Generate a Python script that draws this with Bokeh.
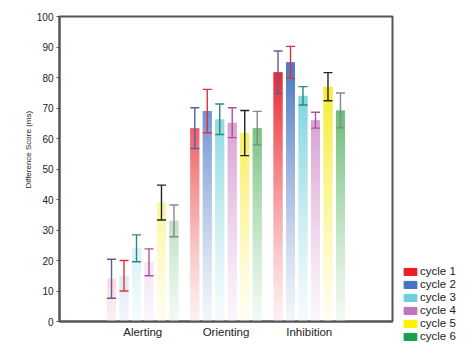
import numpy as np
from bokeh.plotting import figure
from bokeh.models import (ColumnDataSource, Legend, LegendItem, FixedTicker, Title)
from bokeh.embed import file_html
from bokeh.resources import INLINE

groups = ["Alerting", "Orienting", "Inhibition"]
cycles = ["cycle 1", "cycle 2", "cycle 3", "cycle 4", "cycle 5", "cycle 6"]

cycle1_mean = [14.0, 63.4, 81.7]
cycle2_mean = [15.0, 69.0, 85.0]
cycle3_mean = [24.0, 66.3, 74.0]
cycle4_mean = [19.4, 65.2, 66.0]
cycle5_mean = [39.0, 61.8, 77.0]
cycle6_mean = [33.0, 63.4, 69.2]

cycle1_err = [6.4, 6.7, 7.0]
cycle2_err = [5.0, 7.1, 5.2]
cycle3_err = [4.4, 5.0, 3.0]
cycle4_err = [4.4, 4.9, 2.6]
cycle5_err = [5.7, 7.4, 4.6]
cycle6_err = [5.2, 5.5, 5.7]

y_ticks = [0, 10, 20, 30, 40, 50, 60, 70, 80, 90, 100]

means = [cycle1_mean, cycle2_mean, cycle3_mean, cycle4_mean, cycle5_mean, cycle6_mean]
errs = [cycle1_err, cycle2_err, cycle3_err, cycle4_err, cycle5_err, cycle6_err]

bar_colors = ["#e8222b", "#4a78c4", "#6ccfdb", "#cc82c6", "#f6ea1e", "#45ad52"]
legend_colors = ["#ee1c25", "#4472c4", "#6dcfdc", "#c074bc", "#fff200", "#16a04a"]
err_colors = ["#5c5e9c", "#e2303a", "#2a8a7c", "#b0509c", "#222222", "#888888"]

FONT = "Liberation Sans"


def tint(hex_color, a):
    r, g, b = (int(hex_color[i:i + 2], 16) for i in (1, 3, 5))
    mix = lambda c: int(round(255 * (1 - a) + c * a))
    return "#%02x%02x%02x" % (mix(r), mix(g), mix(b))


p = figure(frame_width=333, frame_height=305, output_backend="svg", toolbar_location=None,
           x_range=(0, 4), y_range=(0, 100),
           min_border_left=59, min_border_right=10, min_border_top=16, min_border_bottom=29)
p.xgrid.visible = False
p.ygrid.visible = False
p.outline_line_color = "#555555"
p.outline_line_width = 2
p.background_fill_color = "white"
p.border_fill_color = "white"

group_x = np.arange(1, len(groups) + 1)
step = 0.15
width = 0.108
cap = 0.108

legend_items = []
for k, name in enumerate(cycles):
    xs = group_x + (k - 2.5) * step
    L, R, B, T, C = [], [], [], [], []
    for x, top in zip(xs, means[k]):
        n = max(2, int(np.ceil(top / 0.5)))
        edges = np.linspace(0, top, n + 1)
        for b0, t0 in zip(edges[:-1], edges[1:]):
            mid = 0.5 * (b0 + t0)
            a = 0.07 + 0.9 * min(1.0, mid / 82.0) ** 1.25
            L.append(x - width / 2); R.append(x + width / 2)
            B.append(b0); T.append(min(top, t0 + 0.4)); C.append(tint(bar_colors[k], a))
    src = ColumnDataSource(dict(left=L, right=R, bottom=B, top=T, color=C))
    p.quad(left="left", right="right", bottom="bottom", top="top", source=src,
           fill_color="color", line_color=None)

    m = np.array(means[k]); e = np.array(errs[k])
    esrc = ColumnDataSource(dict(x=xs, x0=xs - cap / 2, x1=xs + cap / 2,
                                 upper=m + e, lower=m - e))
    p.segment(x0="x", x1="x", y0="lower", y1="upper", source=esrc,
              line_color=err_colors[k], line_width=1.4)
    p.segment(x0="x0", x1="x1", y0="upper", y1="upper", source=esrc,
              line_color=err_colors[k], line_width=1.4)
    p.segment(x0="x0", x1="x1", y0="lower", y1="lower", source=esrc,
              line_color=err_colors[k], line_width=1.4)

    dummy = p.vbar(x=[np.nan], top=[np.nan], width=0.1, fill_color=legend_colors[k],
                   line_color=legend_colors[k])
    legend_items.append(LegendItem(label=name, renderers=[dummy]))

legend = Legend(items=legend_items, location=(10, -21), orientation="vertical",
                glyph_width=16, glyph_height=9, label_height=11, spacing=1,
                padding=0, margin=0, label_standoff=2,
                label_text_font=FONT, label_text_font_size="11.5px",
                label_text_color="#222222",
                border_line_color=None, background_fill_alpha=0)
p.add_layout(legend, "right")

ytitle = Title(text="Difference Score (ms)", align="left", offset=133,
               text_font=FONT, text_font_size="8px", text_font_style="normal",
               text_color="#222222", standoff=2)
p.add_layout(ytitle, "left")

p.yaxis.ticker = FixedTicker(ticks=y_ticks)
p.yaxis.axis_line_color = "#555555"
p.yaxis.axis_line_width = 2
p.yaxis.major_tick_line_color = "#555555"
p.yaxis.major_tick_out = 3
p.yaxis.major_tick_in = 0
p.yaxis.minor_tick_line_color = None
p.yaxis.major_label_text_font = FONT
p.yaxis.major_label_text_font_size = "10px"
p.yaxis.major_label_text_color = "#222222"
p.yaxis.major_label_standoff = 3

p.xaxis.ticker = FixedTicker(ticks=list(group_x))
p.xaxis.major_label_overrides = {int(i): g for i, g in zip(group_x, groups)}
p.xaxis.axis_line_color = "#555555"
p.xaxis.axis_line_width = 2
p.xaxis.major_tick_line_color = None
p.xaxis.major_tick_out = 0
p.xaxis.major_tick_in = 0
p.xaxis.minor_tick_line_color = None
p.xaxis.major_label_text_font = FONT
p.xaxis.major_label_text_font_size = "11.5px"
p.xaxis.major_label_text_color = "#222222"
p.xaxis.major_label_standoff = 4

open("out.html", "w").write(file_html(p, INLINE))
